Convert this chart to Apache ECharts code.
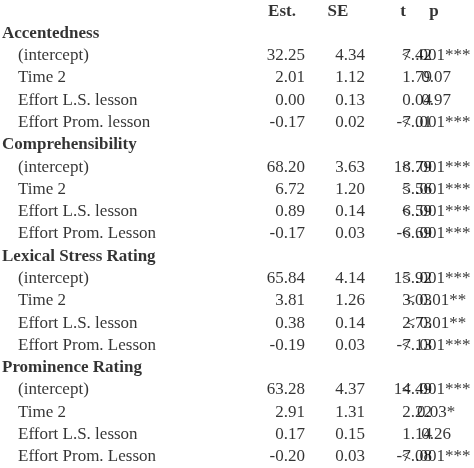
<!DOCTYPE html>
<html><head><meta charset="utf-8">
<script src="https://cdn.jsdelivr.net/npm/echarts@6/dist/echarts.min.js"></script>
<style>html,body{margin:0;padding:0;background:#fff}#main{width:474px;height:468px}</style>
</head><body><div id="main"></div>
<script>
// column headings
var headers = ['Est.', 'SE', 't', 'p'];
// sections and predictor names
var sections = ['Accentedness', 'Comprehensibility', 'Lexical Stress Rating', 'Prominence Rating'];
var predictors = [
    ['(intercept)', 'Time 2', 'Effort L.S. lesson', 'Effort Prom. lesson'],
    ['(intercept)', 'Time 2', 'Effort L.S. lesson', 'Effort Prom. Lesson'],
    ['(intercept)', 'Time 2', 'Effort L.S. lesson', 'Effort Prom. Lesson'],
    ['(intercept)', 'Time 2', 'Effort L.S. lesson', 'Effort Prom. Lesson']
];
var est = [[32.25, 2.01, 0.00, -0.17], [68.20, 6.72, 0.89, -0.17], [65.84, 3.81, 0.38, -0.19], [63.28, 2.91, 0.17, -0.20]];
var se = [[4.34, 1.12, 0.13, 0.02], [3.63, 1.20, 0.14, 0.03], [4.14, 1.26, 0.14, 0.03], [4.37, 1.31, 0.15, 0.03]];
var tval = [[7.42, 1.79, 0.04, -7.01], [18.79, 5.56, 6.59, -6.69], [15.92, 3.03, 2.73, -7.13], [14.49, 2.22, 1.14, -7.08]];
var pval = [
    ['< .001***', '0.07', '0.97', '< .001***'],
    ['< .001***', '< .001***', '< .001***', '< .001***'],
    ['< .001***', '< 0.01**', '< 0.01**', '< .001***'],
    ['< .001***', '0.03*', '0.26', '< .001***']
];

var chart = echarts.init(document.getElementById('main'));
var rows = ['h'];
var secData = [], predData = [], estData = [], seData = [], tData = [], pData = [];
sections.forEach(function (s, i) {
    secData.push([2, rows.length, s]);
    rows.push('s' + i);
    predictors[i].forEach(function (p, j) {
        var r = rows.length;
        predData.push([18, r, p]);
        estData.push([305, r, est[i][j].toFixed(2)]);
        seData.push([365, r, se[i][j].toFixed(2)]);
        tData.push([432, r, tval[i][j].toFixed(2)]);
        pData.push([436, r, pval[i][j]]);
        rows.push('r' + i + j);
    });
});
var headData = [[282, 0, headers[0]], [338, 0, headers[1]], [403, 0, headers[2]], [434, 0, headers[3]]];

function textSeries(data, align, bold) {
    return {
        type: 'scatter', data: data, symbolSize: 1, itemStyle: { color: 'rgba(0,0,0,0)' }, silent: true,
        label: {
            show: true, position: 'inside', align: align, verticalAlign: 'middle',
            fontFamily: 'Liberation Serif', fontSize: 17, color: '#000',
            fontWeight: bold ? 'bold' : 'normal',
            formatter: function (p) { return p.value[2]; }
        }
    };
}
chart.setOption({
    animation: false,
    grid: { left: 0, right: 0, top: 0, bottom: 0 },
    xAxis: { type: 'value', min: 0, max: 474, show: false },
    yAxis: { type: 'category', data: rows, inverse: true, show: false },
    series: [
        textSeries(headData, 'center', true),
        textSeries(secData, 'left', true),
        textSeries(predData, 'left', false),
        textSeries(estData, 'right', false),
        textSeries(seData, 'right', false),
        textSeries(tData, 'right', false),
        textSeries(pData, 'center', false)
    ]
});
</script></body></html>
